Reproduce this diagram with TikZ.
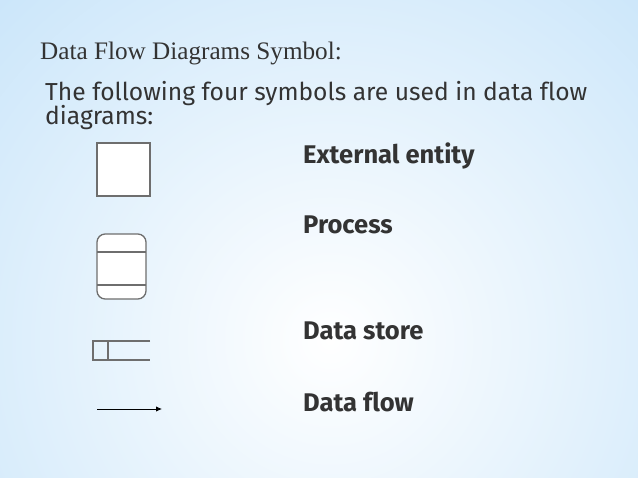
\documentclass[tikz,border=0pt]{standalone}
\usepackage{fontspec}
\setmainfont{Liberation Serif}
\newfontfamily\bodyfont[Ligatures=NoCommon]{Fira Sans}
\usetikzlibrary{arrows.meta}
\definecolor{skyblue}{HTML}{A6D4F6}
\definecolor{symgray}{HTML}{6E6E6E}
\definecolor{inkgray}{HTML}{333333}

\begin{document}
\begin{tikzpicture}[x=0.03cm,y=-0.03cm,
    symbol/.style={draw=symgray,line width=1.1pt},
    title text/.style={anchor=base west,inner sep=0,text=inkgray,
        font=\fontsize{21.5}{26}\selectfont},
    body text/.style={anchor=base west,inner sep=0,text=inkgray,
        font=\bodyfont\fontsize{21}{25}\selectfont},
    label text/.style={body text,font=\bodyfont\bfseries\fontsize{21.8}{26}\selectfont}]
    \useasboundingbox (0,0) rectangle (638,478);
    % background
    \begin{scope}
        \clip (0,0) rectangle (638,478);
        \fill[inner color=white,outer color=skyblue] (330,340) circle (820);
    \end{scope}
    % texts
    \node[title text] (title) at (40,60) {Data Flow Diagrams Symbol:};
    \node[body text] (intro) at (45,101) {The following four symbols are used in data flow};
    \node[body text] (intro2) at (45,124) {diagrams:};
    \node[label text] (entity) at (303,163) {External entity};
    \node[label text] (process) at (303,233) {Process};
    \node[label text] (store) at (303,339) {Data store};
    \node[label text] (flow) at (303,411) {Data flow};
    % symbols
    \draw[symbol,fill=white] (97,143) rectangle (150,196);
    \draw[symbol,fill=white,rounded corners=7pt] (97,234) rectangle (146,299);
    \draw[symbol] (97,252) -- (146,252) (97,285) -- (146,285);
    \draw[symbol] (150,341) -- (93,341) -- (93,360) -- (150,360)
        (108,341) -- (108,360);
    \coordinate (flow start) at (97,409);
    \coordinate (flow end) at (162,409);
    \draw[-{Latex[length=5pt,width=4.5pt]},line width=0.7pt] (flow start) -- (flow end);
\end{tikzpicture}
\end{document}
